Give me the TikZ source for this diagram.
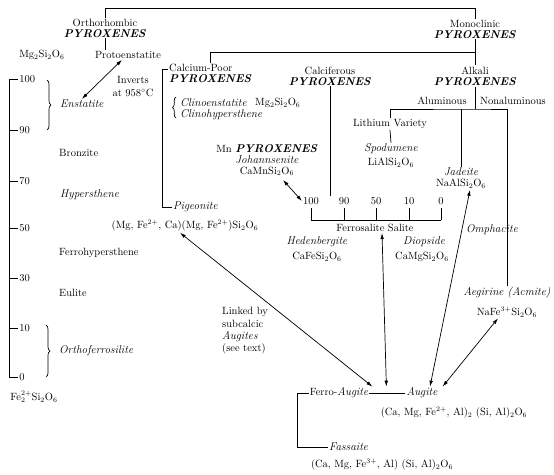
\documentclass[tikz,border=0pt]{standalone}
\usepackage{fontspec}
\usetikzlibrary{arrows.meta,positioning,decorations.pathreplacing,calc}
\tikzset{
  lbl/.style={font=\fontsize{10.5}{11}\selectfont, inner sep=1pt, align=center},
  mineral/.style={lbl, font=\fontsize{11.3}{11}\selectfont\itshape},
  link/.style={line width=0.7pt},
  dbl/.style={line width=0.7pt, {Latex[length=6pt,width=3.6pt]}-{Latex[length=6pt,width=3.6pt]}},
  grp/.style={line width=0.7pt, decorate, decoration={brace, amplitude=4pt}}
}
\newcommand{\pyx}{{\fontsize{11.3}{11}\selectfont\textbf{\textit{PYROXENES}}}}

\begin{document}
\begin{tikzpicture}[x=1pt, y=-1pt]
  \useasboundingbox (0,0) rectangle (554,474);

  % ============ ORTHORHOMBIC BRANCH ============
  \node[lbl] (ortho) at (105,28) {Orthorhombic\\\pyx};
  \node[lbl] (proto) at (128,55) {Protoenstatite};
  \node[lbl] (mgtop) at (42,55) {Mg$_2$Si$_2$O$_6$};
  \node[lbl] (inv) at (133,87) {Inverts\\[2pt]at 958$^\circ$C};
  \draw[link] (ortho.south) -- (proto.north -| ortho.south);

  % ---- Composition scale ----
  \foreach \v/\y in {100/79, 90/130, 70/181, 50/228, 30/278, 10/328, 0/377}
    \draw[link] (9,\y) -- (18,\y) node[lbl, anchor=west] (s\v) {\v};
  \draw[link] (9,79) -- (9,377);

  \draw[grp] (47,80) -- (47,130);
  \draw[grp] (46,325) -- (46,377);
  \node[mineral, anchor=west] (enst) at (59,104) {Enstatite};
  \node[lbl, anchor=west] (bronz) at (58,153) {Bronzite};
  \node[mineral, anchor=west] (hyp) at (59,195) {Hypersthene};
  \node[lbl, anchor=west] (fhyp) at (58,253) {Ferrohypersthene};
  \node[lbl, anchor=west] (eul) at (58,293) {Eulite};
  \node[mineral, anchor=west] (ofer) at (58,351) {Orthoferrosilite};
  \node[lbl] (febot) at (34,397) {Fe$_2^{2+}$Si$_2$O$_6$};

  \draw[dbl] (enst.north) -- ([xshift=-6pt]proto.south);

  % ============ MONOCLINIC BRANCH ============
  \node[lbl] (mono) at (475,29) {Monoclinic\\\pyx};
  \draw[link] (ortho.north) -- ++(0,-9) -| (mono.north);
  \node[lbl] (alk) at (475,76) {Alkali\\\pyx};
  \draw[link] (mono.south) -- (alk.north);
  \coordinate (mj) at (mono.south |- 0,52);
  \node[lbl, anchor=north west, align=left] (calpoor) at (168,63) {Calcium-Poor\\\pyx};
  \draw[link] (mj) -| (calpoor.north);
  \node[lbl] (calcif) at (330,76) {Calciferous\\\pyx};

  % ---- Calcium-poor ----
  \node[mineral, anchor=west] (pige) at (172,207) {Pigeonite};
  \draw[link] ([yshift=-6.5pt]calpoor.north west) -- ++(-6,0) |- (pige.west);
  \draw[grp, decoration={amplitude=3.5pt}] (176,118) -- (176,97);
  \node[mineral, anchor=west] (clen) at (179,103) {Clinoenstatite};
  \node[mineral, anchor=west] (clhy) at (179,115) {Clinohypersthene};
  \node[lbl, anchor=west] (mgcl) at (254,103) {Mg$_2$Si$_2$O$_6$};
  \node[lbl] (pigf) at (185,226) {(Mg, Fe$^{2+}$, Ca)(Mg, Fe$^{2+}$)Si$_2$O$_6$};

  % ---- Mn pyroxenes ----
  \node[lbl] (mn) at (267,160) {Mn \pyx\\{\fontsize{11.3}{11}\selectfont\itshape Johannsenite}\\CaMnSi$_2$O$_6$};

  % ---- Calciferous scale ----
  \foreach \v/\x in {100/311, 90/344, 50/376, 10/409, 0/441} {
    \node[lbl] (f\v) at (\x,201) {\v};
    \draw[link] (\x,208) -- (\x,220);
  }
  \draw[link] (311,220) -- (441,220);
  \node[lbl] (fsal) at (375,228) {Ferrosalite Salite};
  \node[mineral] (hed) at (317,242) {Hedenbergite};
  \node[lbl] (cafe) at (317,257) {CaFeSi$_2$O$_6$};
  \node[mineral] (diop) at (424,242) {Diopside};
  \node[lbl] (camg) at (422,257) {CaMgSi$_2$O$_6$};
  \draw[link] (calcif.south) -- (calcif.south |- f90.north);
  \draw[dbl] ([xshift=16pt,yshift=-3pt]mn.south) -- (f100.west);

  % ---- Alkali ----
  \node[lbl] (alum) at (442,101) {Aluminous};
  \node[lbl] (nonal) at (513,101) {Nonaluminous};
  \coordinate (asplit) at (alk.south |- 0,109);
  \draw[link] (alk.south) -- (asplit);
  \node[lbl] (lith) at (390,124) {Lithium Variety};
  \node[mineral] (spod) at (391,149) {Spodumene};
  \node[lbl] (lial) at (391,163) {LiAlSi$_2$O$_6$};
  \node[mineral] (jad) at (461,172) {Jadeite};
  \node[lbl] (naal) at (461,184) {NaAlSi$_2$O$_6$};
  \node[mineral] (aeg) at (507,293) {Aegirine (Acmite)};
  \node[lbl] (nafe) at (507,312) {NaFe$^{3+}$Si$_2$O$_6$};
  \node[mineral] (omph) at (492,230) {Omphacite};
  \draw[link] (lith.north) |- (asplit) -| (aeg.north);
  \draw[link] (jad.north) -- (jad.north |- asplit);
  \draw[link] (lith.south) -- (spod.north);

  % ============ AUGITE ============
  \node[lbl] (faug) at (339,393) {Ferro-{\fontsize{11.3}{11}\selectfont\itshape Augite}};
  \node[mineral] (aug) at (422,393) {Augite};
  \draw[link] (faug.east) -- (aug.west);
  \node[lbl] (augf) at (454,413) {(Ca, Mg, Fe$^{2+}$, Al)$_2$ (Si, Al)$_2$O$_6$};
  \node[mineral, anchor=west] (fass) at (328,447) {Fassaite};
  \node[lbl] (fassf) at (382,465) {(Ca, Mg, Fe$^{3+}$, Al) (Si, Al)$_2$O$_6$};
  \draw[link] (faug.west) -- ++(-11,0) |- (fass.west);
  \node[lbl, anchor=west, align=left, font=\fontsize{10.5}{12.3}\selectfont]
    (linked) at (221,331) {Linked by\\subcalcic\\{\fontsize{11.3}{12.3}\selectfont\itshape Augites}\\(see text)};

  % ---- Links to Augite ----
  \draw[dbl] ([xshift=-5pt]pigf.south) -- ([xshift=3pt]faug.north east);
  \draw[dbl] ([xshift=7pt]fsal.south) -- ([xshift=-19pt]aug.north west);
  \draw[dbl] ([xshift=9pt]naal.south) -- ([xshift=8pt]aug.north);
  \draw[dbl] ([xshift=-9pt]nafe.south) -- ([xshift=4pt]aug.north east);

\end{tikzpicture}
\end{document}
